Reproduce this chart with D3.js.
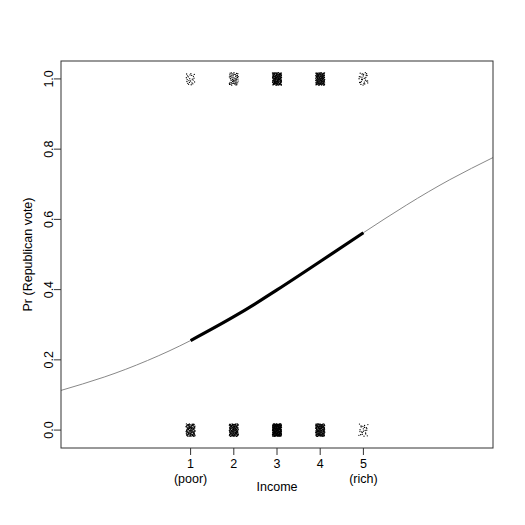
<!DOCTYPE html>
<html>
<head>
<meta charset="utf-8">
<script src="https://cdn.jsdelivr.net/npm/d3@7"></script>
<style>
  body { margin: 0; background: #fff; }
  text { font-family: "Liberation Sans", Arial, sans-serif; font-size: 12.5px; fill: #000; }
</style>
</head>
<body>
<script>
// income levels and tick labels
var incomeLevels = [1, 2, 3, 4, 5];
var incomeLabels = ["1\n(poor)", "2", "3", "4", "5\n(rich)"];
var yTicks = [0, 0.2, 0.4, 0.6, 0.8, 1.0];

// number of respondents at each income level who voted Republican (1) or not (0)
var countsRep = [24, 55, 175, 160, 30];
var countsDem = [113, 150, 265, 170, 24];

// fitted curve: Pr(Republican vote) at each income value
var curveX = [-2, -1, 0, 1, 2, 3, 4, 5, 6, 7, 8];
var curveY = [0.113, 0.151, 0.198, 0.255, 0.323, 0.399, 0.480, 0.562, 0.641, 0.713, 0.776];

// set the dimensions and margins of the graph
var margin = {top: 61, right: 32, bottom: 77, left: 61},
    width = 525 - margin.left - margin.right,
    height = 525 - margin.top - margin.bottom;

var x = d3.scaleLinear().domain([-2, 8]).range([0, width]);
var y = d3.scaleLinear().domain([-0.051, 1.051]).range([height, 0]);

var svg = d3.select("body").append("svg")
    .attr("width", 525)
    .attr("height", 525)
  .append("g")
    .attr("transform", "translate(" + margin.left + "," + margin.top + ")");

// deterministic jitter (halton sequence) so the clusters look like R's jitter()
function halton(i, b) {
  var f = 1, r = 0;
  while (i > 0) { f = f / b; r += f * (i % b); i = Math.floor(i / b); }
  return r;
}

var points = [];
var k = 1;
incomeLevels.forEach(function(inc, i) {
  [[1, countsRep[i]], [0, countsDem[i]]].forEach(function(c) {
    for (var j = 0; j < c[1]; j++, k++) {
      points.push({income: inc, vote: c[0],
                   jx: (halton(k, 2) - 0.5) * 0.21,
                   jy: (halton(k, 3) - 0.5) * 0.036});
    }
  });
});

svg.selectAll(".dot")
    .data(points)
  .enter().append("circle")
    .attr("class", "dot")
    .attr("r", 0.65)
    .attr("cx", function(d) { return x(d.income + d.jx); })
    .attr("cy", function(d) { return y(d.vote + d.jy); })
    .attr("fill", "#000");

// fitted curve
var curveData = curveX.map(function(v, i) { return {x: v, y: curveY[i]}; });
var line = d3.line()
    .x(function(d) { return x(d.x); })
    .y(function(d) { return y(d.y); })
    .curve(d3.curveNatural);

svg.append("path")
    .datum(curveData)
    .attr("d", line)
    .attr("fill", "none")
    .attr("stroke", "#888")
    .attr("stroke-width", 1);

svg.append("path")
    .datum(curveData.filter(function(d) { return d.x >= 1 && d.x <= 5; }))
    .attr("d", line)
    .attr("fill", "none")
    .attr("stroke", "#000")
    .attr("stroke-width", 3.2);

// box
svg.append("rect")
    .attr("width", width)
    .attr("height", height)
    .attr("fill", "none")
    .attr("stroke", "#333")
    .attr("stroke-width", 1);

// x axis
var xAxis = svg.append("g").attr("transform", "translate(0," + height + ")");
xAxis.selectAll("line")
    .data(incomeLevels)
  .enter().append("line")
    .attr("x1", function(d) { return x(d); })
    .attr("x2", function(d) { return x(d); })
    .attr("y1", 0).attr("y2", 7)
    .attr("stroke", "#333");
incomeLevels.forEach(function(d, i) {
  var t = xAxis.append("text")
      .attr("text-anchor", "middle")
      .attr("x", x(d))
      .attr("y", 20);
  incomeLabels[i].split("\n").forEach(function(s, j) {
    t.append("tspan").attr("x", x(d)).attr("dy", j ? 14.5 : 0).text(s);
  });
});
svg.append("text")
    .attr("text-anchor", "middle")
    .attr("x", width / 2)
    .attr("y", height + 43)
    .text("Income");

// y axis
var yAxis = svg.append("g");
yAxis.selectAll("line")
    .data(yTicks)
  .enter().append("line")
    .attr("x1", -7).attr("x2", 0)
    .attr("y1", function(d) { return y(d); })
    .attr("y2", function(d) { return y(d); })
    .attr("stroke", "#333");
yAxis.selectAll("text")
    .data(yTicks)
  .enter().append("text")
    .attr("text-anchor", "middle")
    .attr("transform", function(d) { return "translate(-8," + y(d) + ") rotate(-90)"; })
    .text(function(d) { return d3.format(".1f")(d); });

svg.append("text")
    .attr("transform", "rotate(-90)")
    .attr("x", -height / 2)
    .attr("y", -29)
    .attr("text-anchor", "middle")
    .text("Pr (Republican vote)");
</script>
</body>
</html>
